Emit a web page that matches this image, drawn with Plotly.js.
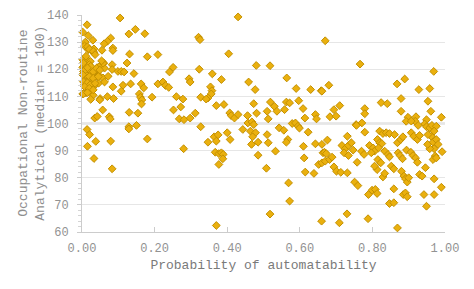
<!DOCTYPE html>
<html>
<head>
<meta charset="utf-8">
<script src="https://cdn.plot.ly/plotly-3.0.1.min.js"></script>
<style>
  html, body { margin: 0; padding: 0; background: #ffffff; }
  #chart { width: 474px; height: 289px; }
</style>
</head>
<body>
<div id="chart"></div>
<script>
// Probability of automatability for each occupation
const automatability = [
  0.014,0.105,0.002,0.017,0.129,0.147,0.173,0.321,0.325,0.009,0.03,0.079,0.07,0.061,0.055,0.085,0.085,0.017,0.033,0.033,0.131,0.18,0.209,0.002,0.017,0.023,0.06,0.002,0.009,0.042,0.051,0.062,0.083,0.083,0.099,0.108,0.116,0.124,0.143,0.241,0.251,0.323,
  0.004,0.012,0.024,0.035,0.031,0.046,0.058,0.072,0.007,0.021,0.035,0.046,0.062,0.085,0.113,0.134,0.163,0.17,0.209,0.223,0.23,0.239,0.295,0.298,0.002,0.011,0.024,0.031,0.108,0.158,0.161,0.165,0.164,0.05,0.07,0.087,0.193,0.26,0.278,
  0.015,0.022,0.031,0.04,0.049,0.058,0.054,0.011,0.02,0.031,0.045,0.004,0.015,0.022,0.036,0.007,0.02,0.031,0.004,0.015,0.024,0.049,0.007,0.015,0.02,0.031,0.036,0.011,0.004,0.02,0.024,0.015,0.004,0.002,
  0.43,0.404,0.48,0.518,0.359,0.384,0.459,0.564,0.354,0.358,0.356,0.347,0.327,0.342,0.477,0.59,0.63,0.659,0.37,0.391,0.473,0.519,0.53,0.537,0.563,0.572,0.597,0.609,0.407,0.411,0.42,0.43,0.456,0.481,0.51,0.513,0.558,0.614,0.643,0.646,0.457,0.468,0.473,0.579,0.588,
  0.13,0.154,0.057,0.075,0.078,0.035,0.042,0.252,0.272,0.268,0.281,0.298,0.312,
  0.67,0.766,0.661,0.68,0.868,0.889,0.969,0.928,0.958,0.879,0.953,0.694,0.71,0.683,0.7,0.824,0.841,0.779,0.779,0.771,0.879,0.898,0.893,0.92,0.918,0.961,0.949,0.944,0.99,0.755,
  0.014,0.021,0.015,0.038,0.033,0.079,0.083,0.129,0.129,0.15,0.18,0.28,0.327,
  0.347,0.364,0.375,0.37,0.367,0.377,0.384,0.389,0.388,0.377,0.4,0.408,0.443,0.464,0.478,0.47,0.467,0.485,0.485,0.51,0.513,0.533,0.508,0.543,0.556,0.567,0.563,0.595,0.599,0.623,0.61,0.612,0.643,0.652,0.661,0.615,0.639,0.664,0.569,0.572,0.518,0.37,0.66,
  0.756,0.779,0.82,0.829,0.838,0.847,0.861,0.907,0.926,0.949,0.958,0.964,0.976,0.97,0.962,0.967,0.976,0.981,0.992,0.97,0.973,0.967,0.976,
  0.676,0.661,0.668,0.673,0.67,0.682,0.689,0.694,0.701,0.713,0.731,0.716,0.725,0.734,0.742,0.731,0.747,0.722,0.734,0.758,0.751,0.76,0.77,0.777,0.792,0.802,0.806,0.797,0.814,0.82,0.826,0.817,0.815,0.813,0.823,0.806,0.789,0.799,0.808,0.813,0.788,0.709,0.73,
  0.834,0.843,0.847,0.852,0.859,0.829,0.834,0.847,0.859,0.869,0.859,0.869,0.878,0.884,0.871,0.876,0.883,0.88,0.887,0.891,0.896,0.9,0.885,0.891,0.896,0.894,0.906,0.912,0.919,0.907,0.914,0.924,0.93,0.924,0.946,0.93,0.937,0.942,0.949,0.97,0.99,0.97,0.953,0.958,0.952
];

// Occupational non-routine analytical score (median = 100)
const analyticalScore = [
  136.4,138.9,133.7,132.4,133,134.7,133.1,131.8,130.9,130,130.7,131.5,130.3,129.4,127,127.8,126.9,127.2,127.5,126,125.6,124.6,125.4,123.5,123.2,122.9,122.3,120.7,121,120.6,121.4,120.4,121.7,119.9,119.2,119.2,119,122.3,118.4,119,120.7,120,
  118.4,117.2,118.6,119.5,116.4,117.8,116.8,117.4,114.3,114.9,114,114.9,115.3,113.5,114.1,114.6,114.6,113.1,114.6,115.3,114,113.3,116.5,115.3,110.9,111.3,111.9,110.4,111.9,110.9,109.7,108.7,107.2,109.2,109.9,109.2,109.7,109.9,109,
  119.1,119.7,119.1,120.4,119.7,122.2,123.1,117.9,117.3,116.7,117.3,115.4,115,114.2,114.8,113.6,113,112.4,110.9,111.4,108.9,108.7,128.6,128.3,127.4,126.6,125.4,124.8,122.3,121.7,121.1,120.5,119.2,118,
  139.3,125.7,121.4,121.3,118.3,116.2,115.3,116.8,113.5,112.1,110.9,109.4,109.7,109,112.5,112.9,112.5,112.1,106.6,107,107.3,107.9,106.3,104.5,107.9,107.6,108.4,105.5,103.9,102.9,102,103.3,102.9,103.8,104.5,101.7,105.1,102,103.3,101.7,100.2,100.6,99.6,100,100.2,
  104.1,103.8,105,102.5,101.7,102,102.6,105,106.1,101.7,101.4,102,103.8,
  130.5,121.9,111.9,114.1,114.6,116.4,119.2,112.5,112.9,109.2,108.2,105.1,106.6,102.5,102.7,107.7,107.3,105.5,103.6,100.2,104.5,102.3,100.8,102.5,100.8,104.5,101.4,99.8,102.3,99.6,
  97.8,95.9,91.6,93.4,87.1,93.5,83.3,98.8,98,99.3,94.3,90.7,98.8,
  93.1,95.1,95.8,93.5,89.4,88.9,89.2,88.6,87,84.9,96.6,94.1,97.8,97.2,96.6,95.1,92.3,93.1,88.3,95.9,92.9,89.8,83.5,98.4,97.5,94.1,93.1,99,98.3,96.8,91.6,87.3,92.5,84.9,85.5,82.1,81.6,89.2,78.1,71.4,66.6,62.4,64,
  99.3,96.8,97.2,96.3,96.6,96.3,95.9,100.9,99.3,98.8,98.4,99.3,99,97.2,95.3,93.1,94.1,92.3,89.6,90.7,88,86.7,87.3,
  93.9,92.3,89.4,88.9,86.1,86.7,87.6,84,82.4,82,81.8,91.9,90.7,91.9,92.9,95.3,90.2,89.2,88.2,85.7,78.4,77.1,89.8,88.6,91.9,91,89.8,89.2,94.1,92.9,92.6,91,86.7,83,85.5,84.3,73.8,75.4,75.7,74.2,64.9,63.4,66.7,
  89.8,88.6,87.7,84.3,83.3,80.3,81.6,70.5,70.8,61.5,75.9,92.9,94.1,95.1,89.2,88.2,87,82.4,80.6,79.6,78.4,80,73.8,74.4,73,90.2,89.4,88.2,87.3,96.6,95.3,94.1,95.6,85.7,83.7,81.2,80.6,73.8,69.5,79.6,76.5,73.8,95.9,90.7,92.3
];

const xTitle = 'Probability of automatability';
const yTitle = 'Occupational Non-routine<br>Analytical (median = 100)';

const monoFont = '"Liberation Mono", "Courier New", monospace';

const trace = {
  type: 'scatter',
  mode: 'markers',
  x: automatability,
  y: analyticalScore,
  cliponaxis: false,
  marker: {
    symbol: 'diamond',
    size: 6,
    color: '#EAB00E',
    line: { color: '#C39000', width: 1 }
  },
  hoverinfo: 'x+y'
};

const layout = {
  width: 474,
  height: 289,
  margin: { l: 82, r: 29, t: 15, b: 57 },
  paper_bgcolor: '#ffffff',
  plot_bgcolor: '#ffffff',
  showlegend: false,
  font: { family: monoFont, size: 12, color: '#929292' },
  xaxis: {
    range: [0, 1],
    dtick: 0.2,
    tick0: 0,
    tickformat: '.2f',
    showgrid: false,
    zeroline: false,
    showline: true,
    linecolor: '#cccccc',
    linewidth: 1,
    ticks: 'inside',
    ticklen: 5,
    tickcolor: '#cccccc',
    ticklabelstandoff: 5,
    tickfont: { family: monoFont, size: 12, color: '#929292' },
    title: {
      text: xTitle,
      font: { family: monoFont, size: 13, color: '#7a7a7a' },
      standoff: 4
    }
  },
  yaxis: {
    range: [60, 140],
    dtick: 10,
    tick0: 60,
    showgrid: true,
    gridcolor: '#e6e6e6',
    gridwidth: 1,
    zeroline: false,
    showline: true,
    linecolor: '#cccccc',
    linewidth: 1,
    ticks: 'outside',
    ticklen: 4,
    tickcolor: '#cccccc',
    ticklabelstandoff: 6,
    minor: { dtick: 2, ticks: 'outside', ticklen: 3, tickcolor: '#d4d4d4', showgrid: false },
    tickfont: { family: monoFont, size: 12, color: '#929292' }
  },
  annotations: [
    {
      // two-line vertical axis title
      text: yTitle,
      xref: 'paper', yref: 'paper',
      x: -0.14, y: 0.5,
      xanchor: 'center', yanchor: 'middle',
      textangle: -90,
      showarrow: false,
      font: { family: monoFont, size: 13, color: '#8e8e8e' }
    }
  ],
  shapes: [
    {
      type: 'line', xref: 'paper', yref: 'y',
      x0: 0, x1: 1, y0: 100, y1: 100,
      line: { color: '#a8a8a8', width: 1.5 },
      layer: 'below'
    }
  ]
};

Plotly.newPlot('chart', [trace], layout, { staticPlot: true, displayModeBar: false });
</script>
</body>
</html>
